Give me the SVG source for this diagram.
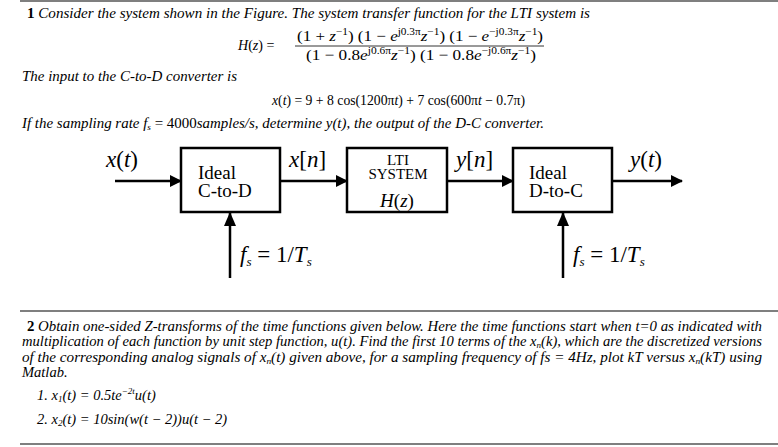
<svg xmlns="http://www.w3.org/2000/svg" width="778" height="447" viewBox="0 0 778 447">
<style>
text{font-family:"Liberation Serif","DejaVu Serif",serif;fill:#000}
.t{font-size:14.5px;font-style:italic}
.m{font-size:14px}
.f{font-size:15px}
.big{font-size:23px}
.lab{font-size:19px}
.box{fill:#fff;stroke:#000;stroke-width:2.5}
.ln{stroke:#000;stroke-width:2.5;fill:none}
.rule{stroke:#555;stroke-width:1.5}
</style>
<defs><marker id="ah" markerWidth="12" markerHeight="12" refX="11" refY="6" orient="auto" markerUnits="userSpaceOnUse"><path d="M0,0 L12,6 L0,12 z" fill="#000"/></marker>
<marker id="ah2" markerWidth="14" markerHeight="12" refX="13" refY="6" orient="auto" markerUnits="userSpaceOnUse"><path d="M0,0 L14,6 L0,12 z" fill="#000"/></marker></defs>
<line class="rule" x1="20" y1="1" x2="778" y2="1"/>
<line class="rule" x1="20" y1="311" x2="778" y2="311"/>
<line class="rule" x1="20" y1="444" x2="778" y2="444"/>
<text class="t" x="27" y="18" textLength="563" lengthAdjust="spacingAndGlyphs"><tspan font-weight="bold" font-style="normal">1</tspan> Consider the system shown in the Figure. The system transfer function for the LTI system is</text>
<text class="m" x="238" y="50"><tspan font-style="italic">H</tspan>(<tspan font-style="italic">z</tspan>) =</text>
<text class="f" x="297" y="41" textLength="246" lengthAdjust="spacingAndGlyphs">(1 + <tspan font-style="italic">z</tspan><tspan font-size="10" dy="-6">−1</tspan><tspan dy="6">) (1 − </tspan><tspan font-style="italic">e</tspan><tspan font-size="10" dy="-6">j0.3π</tspan><tspan font-style="italic" dy="6">z</tspan><tspan font-size="10" dy="-6">−1</tspan><tspan dy="6">) (1 − </tspan><tspan font-style="italic">e</tspan><tspan font-size="10" dy="-6">−j0.3π</tspan><tspan font-style="italic" dy="6">z</tspan><tspan font-size="10" dy="-6">−1</tspan><tspan dy="6">)</tspan></text>
<line x1="295" y1="46" x2="544" y2="46" stroke="#000" stroke-width="0.8"/>
<text class="f" x="306" y="60" textLength="230" lengthAdjust="spacingAndGlyphs">(1 − 0.8<tspan font-style="italic">e</tspan><tspan font-size="10" dy="-6">j0.6π</tspan><tspan font-style="italic" dy="6">z</tspan><tspan font-size="10" dy="-6">−1</tspan><tspan dy="6">) (1 − 0.8</tspan><tspan font-style="italic">e</tspan><tspan font-size="10" dy="-6">−j0.6π</tspan><tspan font-style="italic" dy="6">z</tspan><tspan font-size="10" dy="-6">−1</tspan><tspan dy="6">)</tspan></text>
<text class="t" x="22" y="81" textLength="215" lengthAdjust="spacingAndGlyphs">The input to the C-to-D converter is</text>
<text class="m" x="272" y="105" textLength="253" lengthAdjust="spacingAndGlyphs"><tspan font-style="italic">x</tspan>(<tspan font-style="italic">t</tspan>) = 9 + 8 cos(1200π<tspan font-style="italic">t</tspan>) + 7 cos(600π<tspan font-style="italic">t</tspan> − 0.7π)</text>
<text class="t" x="22" y="128" textLength="522" lengthAdjust="spacingAndGlyphs">If the sampling rate f<tspan font-size="9" dy="2">s</tspan><tspan dy="-2" font-style="normal"> = 4000</tspan>samples/s, determine y(t), the output of the D-C converter.</text>
<g id="connectors">
<line class="ln" x1="115" y1="181" x2="181" y2="181" marker-end="url(#ah)"/>
<line class="ln" x1="280" y1="181" x2="347" y2="181" marker-end="url(#ah)"/>
<line class="ln" x1="447" y1="181" x2="513" y2="181" marker-end="url(#ah)"/>
<line class="ln" x1="612" y1="181" x2="682" y2="181" marker-end="url(#ah)"/>
<line class="ln" x1="230" y1="278" x2="230" y2="213" marker-end="url(#ah2)"/>
<line class="ln" x1="563" y1="278" x2="563" y2="213" marker-end="url(#ah2)"/>
</g>
<text class="big" x="106" y="167" font-style="italic">x<tspan font-style="normal">(</tspan>t<tspan font-style="normal">)</tspan></text>
<text class="big" x="289" y="167" font-style="italic">x<tspan font-style="normal">[</tspan>n<tspan font-style="normal">]</tspan></text>
<text class="big" x="456" y="167" font-style="italic">y<tspan font-style="normal">[</tspan>n<tspan font-style="normal">]</tspan></text>
<text class="big" x="630" y="167" font-style="italic">y<tspan font-style="normal">(</tspan>t<tspan font-style="normal">)</tspan></text>
<g id="ctod"><rect class="box" x="181" y="148" width="99" height="64"/>
<text class="lab" x="198" y="179">Ideal</text><text class="lab" x="198" y="197">C-to-D</text></g>
<g id="lti"><rect class="box" x="347" y="148" width="100" height="64"/>
<text x="398" y="165" text-anchor="middle" font-size="15">LTI</text>
<text x="398" y="179" text-anchor="middle" font-size="15">SYSTEM</text>
<text class="lab" x="397" y="207" text-anchor="middle"><tspan font-style="italic">H</tspan>(<tspan font-style="italic">z</tspan>)</text></g>
<g id="dtoc"><rect class="box" x="513" y="148" width="99" height="64"/>
<text class="lab" x="529" y="179">Ideal</text><text class="lab" x="529" y="197">D-to-C</text></g>
<text class="big" x="240" y="262"><tspan font-style="italic">f</tspan><tspan font-size="13" font-style="italic" dy="4">s</tspan><tspan dy="-4"> = 1/</tspan><tspan font-style="italic">T</tspan><tspan font-size="13" font-style="italic" dy="4">s</tspan></text>
<text class="big" x="573" y="262"><tspan font-style="italic">f</tspan><tspan font-size="13" font-style="italic" dy="4">s</tspan><tspan dy="-4"> = 1/</tspan><tspan font-style="italic">T</tspan><tspan font-size="13" font-style="italic" dy="4">s</tspan></text>
<text class="t" x="27" y="331" textLength="735" lengthAdjust="spacingAndGlyphs"><tspan font-weight="bold" font-style="normal">2</tspan> Obtain one-sided Z-transforms of the time functions given below. Here the time functions start when t=0 as indicated with</text>
<text class="t" x="22" y="346" textLength="740" lengthAdjust="spacingAndGlyphs">multiplication of each function by unit step function, u(t). Find the first 10 terms of the x<tspan font-size="9" dy="2">n</tspan><tspan dy="-2">(k), which are the discretized versions</tspan></text>
<text class="t" x="22" y="362" textLength="740" lengthAdjust="spacingAndGlyphs">of the corresponding analog signals of x<tspan font-size="9" dy="2">n</tspan><tspan dy="-2">(t) given above, for a sampling frequency of fs = 4Hz, plot kT versus x</tspan><tspan font-size="9" dy="2">n</tspan><tspan dy="-2">(kT) using</tspan></text>
<text class="t" x="22" y="377">Matlab.</text>
<text class="t" x="37" y="400">1.  x<tspan font-size="9" dy="2">1</tspan><tspan dy="-2">(t) = 0.5te</tspan><tspan font-size="9" dy="-6">−2t</tspan><tspan dy="6">u(t)</tspan></text>
<text class="t" x="37" y="424">2.  x<tspan font-size="9" dy="2">2</tspan><tspan dy="-2">(t) = 10sin(w(t − 2))u(t − 2)</tspan></text>
</svg>
